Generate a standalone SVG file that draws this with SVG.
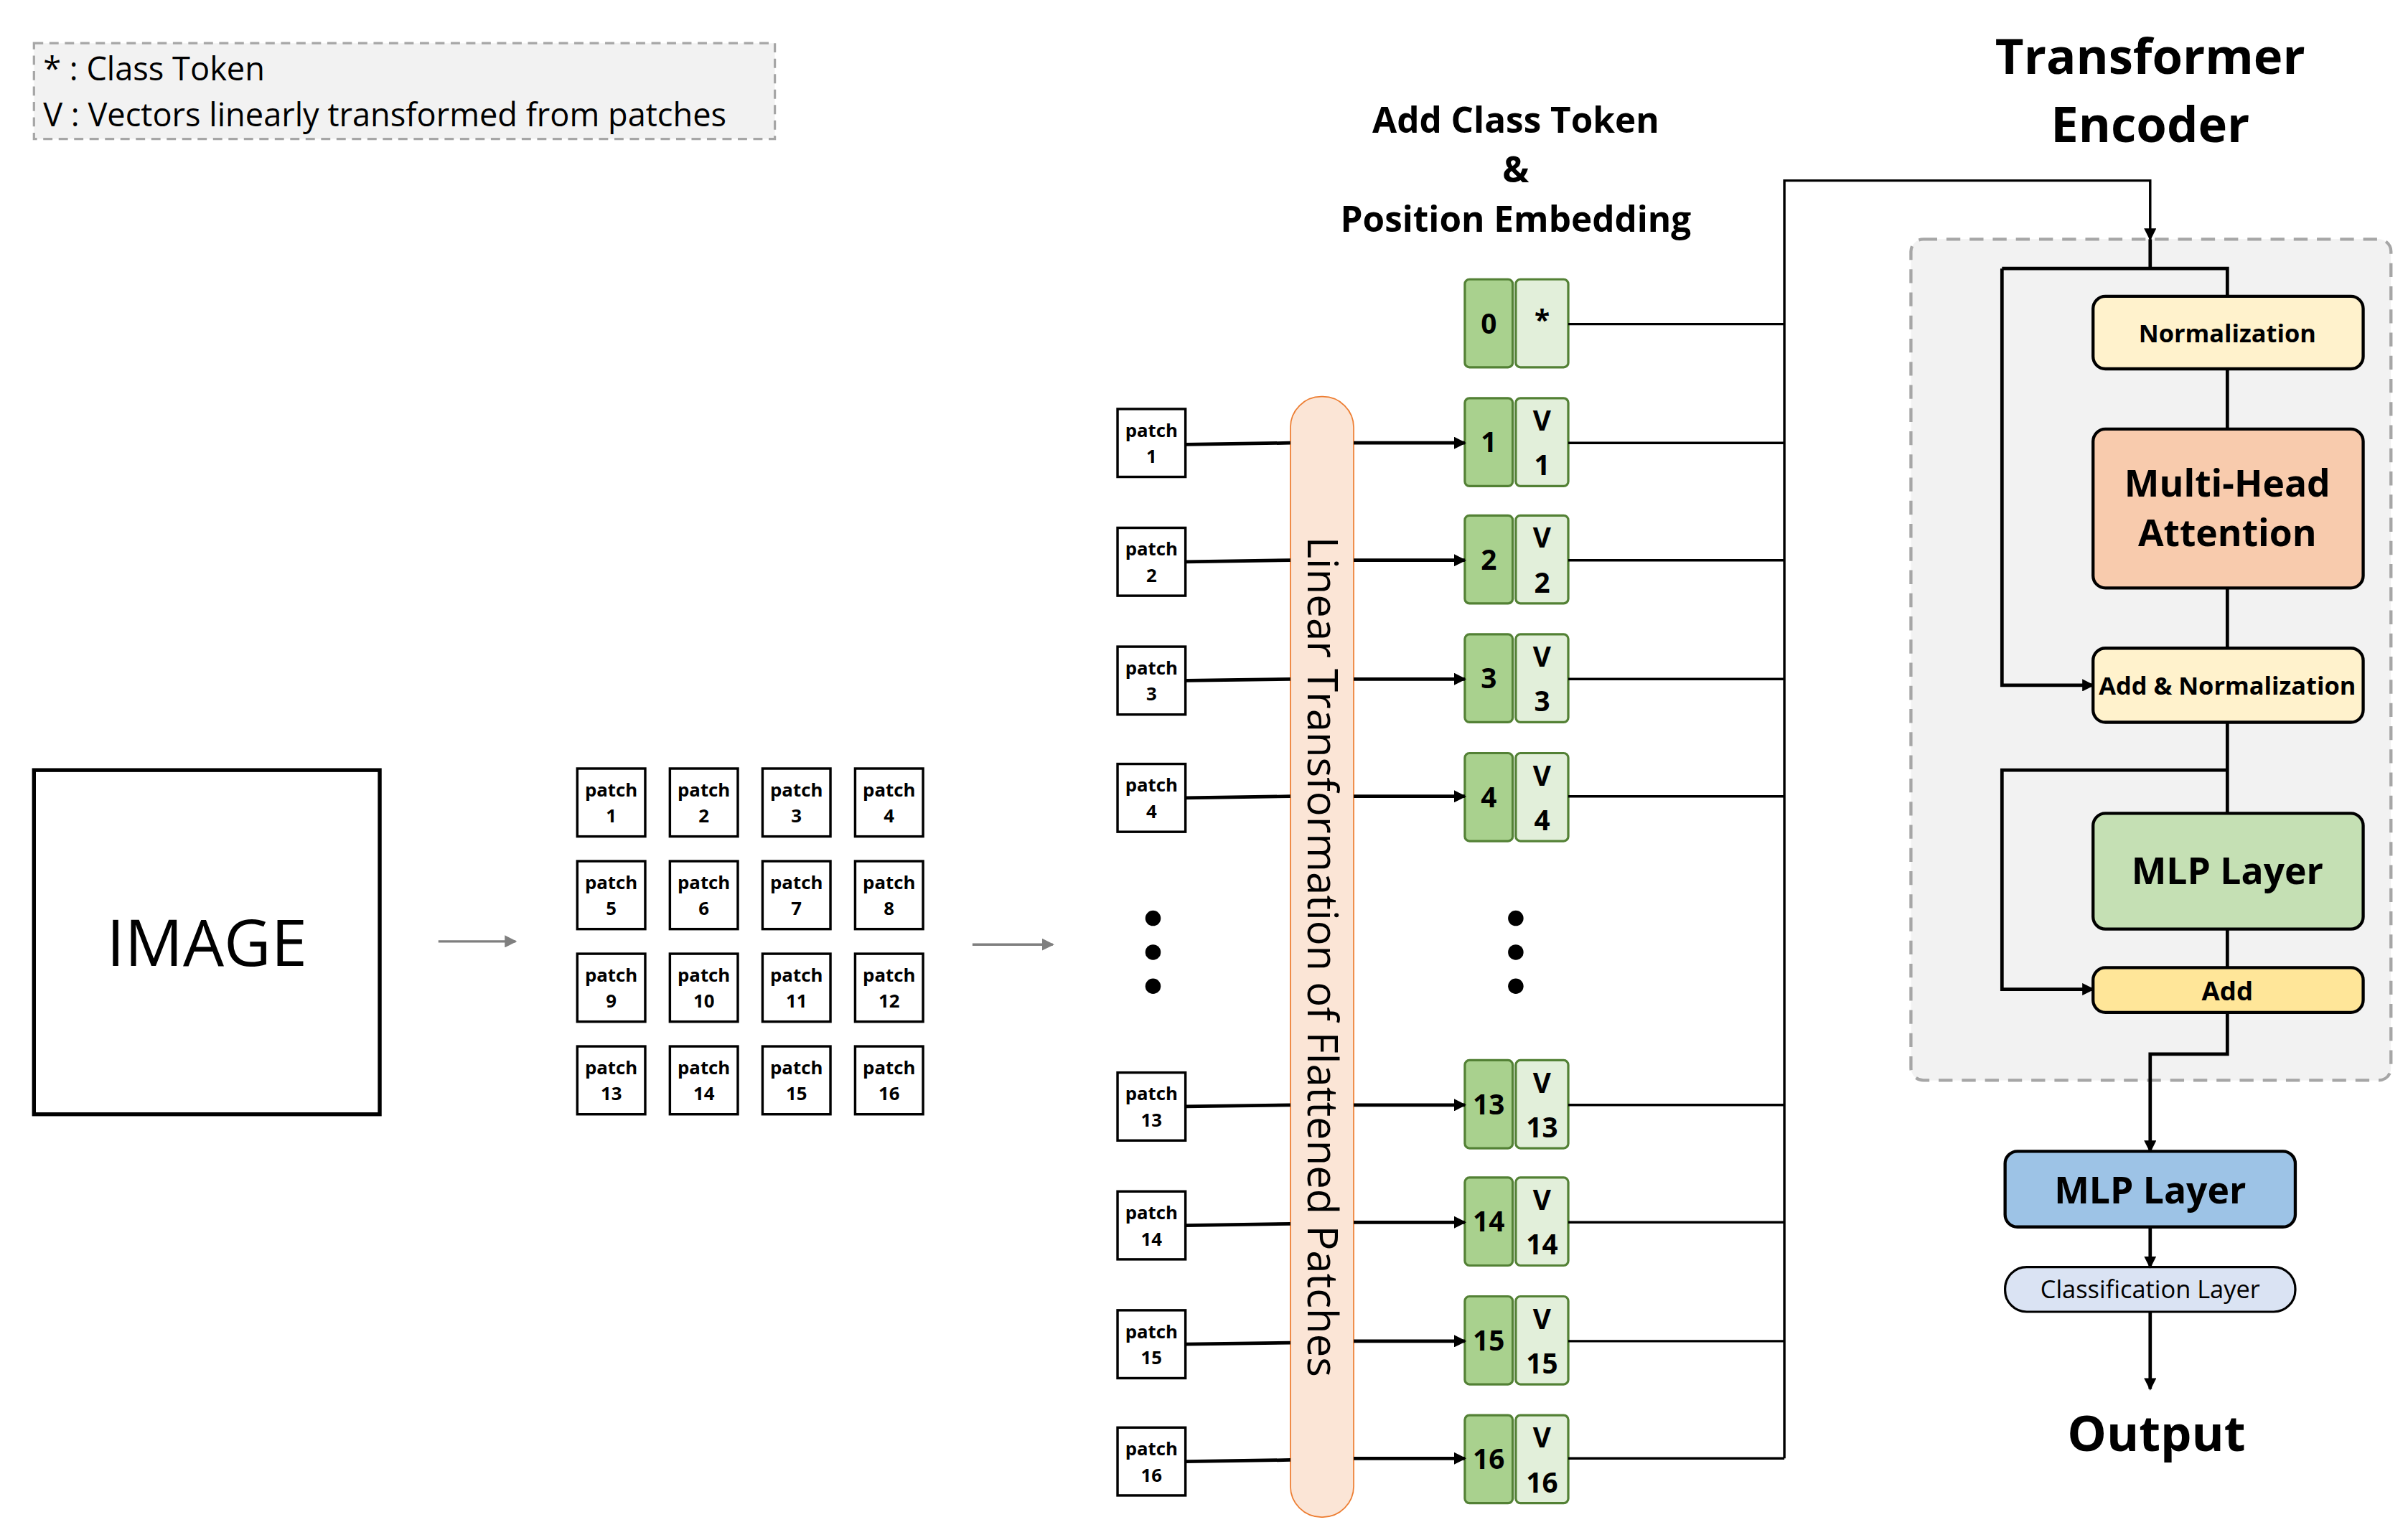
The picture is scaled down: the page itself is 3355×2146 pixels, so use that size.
<svg xmlns="http://www.w3.org/2000/svg" width="3355" height="2146" viewBox="0 0 3355 2146">
<defs>
<marker id="ah" markerWidth="8" markerHeight="8" refX="7" refY="4" orient="auto" markerUnits="userSpaceOnUse"><path d="M0,0 L8,4 L0,8 z" fill="#000"/></marker>
<marker id="ag" markerWidth="8" markerHeight="8" refX="7" refY="4" orient="auto" markerUnits="userSpaceOnUse"><path d="M0,0 L8,4 L0,8 z" fill="#7f7f7f"/></marker>
<style>
text{font-family:"Open Sans","Noto Sans",sans-serif;fill:#000}
.b{font-weight:bold}
.p{fill:#fff;stroke:#000;stroke-width:1.6}
.pt{font-size:12px;font-weight:bold;text-anchor:middle}
.dk{fill:#a9d18e;stroke:#538135;stroke-width:1.5}
.lt{fill:#e2efda;stroke:#538135;stroke-width:1.5}
.gt{font-size:18px;font-weight:bold;text-anchor:middle}
.ln{stroke:#000;stroke-width:1.6;fill:none}
.tk{stroke:#000;stroke-width:2.2;fill:none}
.bx{stroke:#000;stroke-width:2;rx:8}
.c{text-anchor:middle}
</style>
</defs>
<rect width="3355" height="2146" fill="#fff"/>
<g transform="scale(2.1506)">
<g id="legend">
<rect x="22" y="28" width="480" height="62" fill="#f2f2f2" stroke="#a6a6a6" stroke-width="1.5" stroke-dasharray="6,4"/>
<text x="28" y="52" font-size="21">* : Class Token</text>
<text x="28" y="82" font-size="21">V : Vectors linearly transformed from patches</text>
</g>
<g id="image">
<rect x="22" y="499" width="224" height="223" fill="#fff" stroke="#000" stroke-width="2.5"/>
<text x="134" y="626" font-size="42" class="c">IMAGE</text>
</g>
<g id="grid">
<rect class="p" x="374" y="498" width="44" height="44"/><text class="pt" x="396" y="516">patch</text><text class="pt" x="396" y="533">1</text>
<rect class="p" x="434" y="498" width="44" height="44"/><text class="pt" x="456" y="516">patch</text><text class="pt" x="456" y="533">2</text>
<rect class="p" x="494" y="498" width="44" height="44"/><text class="pt" x="516" y="516">patch</text><text class="pt" x="516" y="533">3</text>
<rect class="p" x="554" y="498" width="44" height="44"/><text class="pt" x="576" y="516">patch</text><text class="pt" x="576" y="533">4</text>
<rect class="p" x="374" y="558" width="44" height="44"/><text class="pt" x="396" y="576">patch</text><text class="pt" x="396" y="593">5</text>
<rect class="p" x="434" y="558" width="44" height="44"/><text class="pt" x="456" y="576">patch</text><text class="pt" x="456" y="593">6</text>
<rect class="p" x="494" y="558" width="44" height="44"/><text class="pt" x="516" y="576">patch</text><text class="pt" x="516" y="593">7</text>
<rect class="p" x="554" y="558" width="44" height="44"/><text class="pt" x="576" y="576">patch</text><text class="pt" x="576" y="593">8</text>
<rect class="p" x="374" y="618" width="44" height="44"/><text class="pt" x="396" y="636">patch</text><text class="pt" x="396" y="653">9</text>
<rect class="p" x="434" y="618" width="44" height="44"/><text class="pt" x="456" y="636">patch</text><text class="pt" x="456" y="653">10</text>
<rect class="p" x="494" y="618" width="44" height="44"/><text class="pt" x="516" y="636">patch</text><text class="pt" x="516" y="653">11</text>
<rect class="p" x="554" y="618" width="44" height="44"/><text class="pt" x="576" y="636">patch</text><text class="pt" x="576" y="653">12</text>
<rect class="p" x="374" y="678" width="44" height="44"/><text class="pt" x="396" y="696">patch</text><text class="pt" x="396" y="713">13</text>
<rect class="p" x="434" y="678" width="44" height="44"/><text class="pt" x="456" y="696">patch</text><text class="pt" x="456" y="713">14</text>
<rect class="p" x="494" y="678" width="44" height="44"/><text class="pt" x="516" y="696">patch</text><text class="pt" x="516" y="713">15</text>
<rect class="p" x="554" y="678" width="44" height="44"/><text class="pt" x="576" y="696">patch</text><text class="pt" x="576" y="713">16</text>
</g>
<g id="patchcol">
<rect class="p" x="724" y="265" width="44" height="44"/><text class="pt" x="746" y="283">patch</text><text class="pt" x="746" y="300">1</text>
<rect class="p" x="724" y="342" width="44" height="44"/><text class="pt" x="746" y="360">patch</text><text class="pt" x="746" y="377">2</text>
<rect class="p" x="724" y="419" width="44" height="44"/><text class="pt" x="746" y="437">patch</text><text class="pt" x="746" y="454">3</text>
<rect class="p" x="724" y="495" width="44" height="44"/><text class="pt" x="746" y="513">patch</text><text class="pt" x="746" y="530">4</text>
<rect class="p" x="724" y="695" width="44" height="44"/><text class="pt" x="746" y="713">patch</text><text class="pt" x="746" y="730">13</text>
<rect class="p" x="724" y="772" width="44" height="44"/><text class="pt" x="746" y="790">patch</text><text class="pt" x="746" y="807">14</text>
<rect class="p" x="724" y="849" width="44" height="44"/><text class="pt" x="746" y="867">patch</text><text class="pt" x="746" y="884">15</text>
<rect class="p" x="724" y="925" width="44" height="44"/><text class="pt" x="746" y="943">patch</text><text class="pt" x="746" y="960">16</text>
<circle cx="747" cy="595" r="5"/><circle cx="747" cy="617" r="5"/><circle cx="747" cy="639" r="5"/>
</g>
<g id="linear">
<rect x="836" y="257" width="41" height="726" rx="20" fill="#fbe5d6" stroke="#ed7d31" stroke-width="0.8"/>
<text transform="translate(847,620) rotate(90)" font-size="27" class="c">Linear Transformation of Flattened  Patches</text>
</g>
<g id="tokens">
<text x="982" y="86" font-size="23" class="b c">Add Class Token</text>
<text x="982" y="118" font-size="23" class="b c">&amp;</text>
<text x="982" y="150" font-size="23" class="b c">Position Embedding</text>
<rect class="dk" x="949" y="181" width="31" height="57" rx="3"/><rect class="lt" x="982" y="181" width="34" height="57" rx="3"/>
<text class="gt" x="964.5" y="216">0</text><text class="gt" x="999" y="214">*</text>
<rect class="dk" x="949" y="258" width="31" height="57" rx="3"/><rect class="lt" x="982" y="258" width="34" height="57" rx="3"/>
<text class="gt" x="964.5" y="293">1</text><text class="gt" x="999" y="279">V</text><text class="gt" x="999" y="308">1</text>
<rect class="dk" x="949" y="334" width="31" height="57" rx="3"/><rect class="lt" x="982" y="334" width="34" height="57" rx="3"/>
<text class="gt" x="964.5" y="369">2</text><text class="gt" x="999" y="355">V</text><text class="gt" x="999" y="384">2</text>
<rect class="dk" x="949" y="411" width="31" height="57" rx="3"/><rect class="lt" x="982" y="411" width="34" height="57" rx="3"/>
<text class="gt" x="964.5" y="446">3</text><text class="gt" x="999" y="432">V</text><text class="gt" x="999" y="461">3</text>
<rect class="dk" x="949" y="488" width="31" height="57" rx="3"/><rect class="lt" x="982" y="488" width="34" height="57" rx="3"/>
<text class="gt" x="964.5" y="523">4</text><text class="gt" x="999" y="509">V</text><text class="gt" x="999" y="538">4</text>
<rect class="dk" x="949" y="687" width="31" height="57" rx="3"/><rect class="lt" x="982" y="687" width="34" height="57" rx="3"/>
<text class="gt" x="964.5" y="722">13</text><text class="gt" x="999" y="708">V</text><text class="gt" x="999" y="737">13</text>
<rect class="dk" x="949" y="763" width="31" height="57" rx="3"/><rect class="lt" x="982" y="763" width="34" height="57" rx="3"/>
<text class="gt" x="964.5" y="798">14</text><text class="gt" x="999" y="784">V</text><text class="gt" x="999" y="813">14</text>
<rect class="dk" x="949" y="840" width="31" height="57" rx="3"/><rect class="lt" x="982" y="840" width="34" height="57" rx="3"/>
<text class="gt" x="964.5" y="875">15</text><text class="gt" x="999" y="861">V</text><text class="gt" x="999" y="890">15</text>
<rect class="dk" x="949" y="917" width="31" height="57" rx="3"/><rect class="lt" x="982" y="917" width="34" height="57" rx="3"/>
<text class="gt" x="964.5" y="952">16</text><text class="gt" x="999" y="938">V</text><text class="gt" x="999" y="967">16</text>
<circle cx="982" cy="595" r="5"/><circle cx="982" cy="617" r="5"/><circle cx="982" cy="639" r="5"/>
</g>
<g id="encoder">
<text x="1393" y="48" font-size="32" class="b c">Transformer</text>
<text x="1393" y="92" font-size="32" class="b c">Encoder</text>
<rect x="1238" y="155" width="311" height="545" rx="8" fill="#f2f2f2" stroke="#a6a6a6" stroke-width="2" stroke-dasharray="9,6"/>
<rect class="bx" x="1356" y="192" width="175" height="47" fill="#fff2cc"/><text x="1443" y="222" font-size="16" class="b c">Normalization</text>
<rect class="bx" x="1356" y="278" width="175" height="103" rx="14" fill="#f8cbad"/><text x="1443" y="322" font-size="24" class="b c">Multi-Head</text><text x="1443" y="354" font-size="24" class="b c">Attention</text>
<rect class="bx" x="1356" y="420" width="175" height="48" fill="#fff2cc"/><text x="1443" y="450" font-size="16" class="b c">Add &amp; Normalization</text>
<rect class="bx" x="1356" y="527" width="175" height="75" fill="#c5e0b4"/><text x="1443" y="573" font-size="24" class="b c">MLP Layer</text>
<rect class="bx" x="1356" y="627" width="175" height="29" fill="#ffe699"/><text x="1443" y="648" font-size="17" class="b c">Add</text>
</g>
<g id="head">
<rect class="bx" x="1299" y="746" width="188" height="49" rx="12" fill="#9dc3e6"/><text x="1393" y="780" font-size="24" class="b c">MLP Layer</text>
<rect x="1299" y="821" width="188" height="29" rx="14" fill="#dae3f3" stroke="#000" stroke-width="1.5"/><text x="1393" y="841" font-size="16" class="c">Classification Layer</text>
<text x="1397" y="940" font-size="32" class="b c">Output</text>
</g>
<g id="connectors">
<line x1="284" y1="610" x2="334" y2="610" stroke="#7f7f7f" stroke-width="1.6" marker-end="url(#ag)"/>
<line x1="630" y1="612" x2="682" y2="612" stroke="#7f7f7f" stroke-width="1.6" marker-end="url(#ag)"/>
<g class="tk">
<line x1="768" y1="288" x2="836" y2="287"/><line x1="877" y1="287" x2="949" y2="287" marker-end="url(#ah)"/>
<line x1="768" y1="364" x2="836" y2="363"/><line x1="877" y1="363" x2="949" y2="363" marker-end="url(#ah)"/>
<line x1="768" y1="441" x2="836" y2="440"/><line x1="877" y1="440" x2="949" y2="440" marker-end="url(#ah)"/>
<line x1="768" y1="517" x2="836" y2="516"/><line x1="877" y1="516" x2="949" y2="516" marker-end="url(#ah)"/>
<line x1="768" y1="717" x2="836" y2="716"/><line x1="877" y1="716" x2="949" y2="716" marker-end="url(#ah)"/>
<line x1="768" y1="794" x2="836" y2="793"/><line x1="877" y1="792" x2="949" y2="792" marker-end="url(#ah)"/>
<line x1="768" y1="871" x2="836" y2="870"/><line x1="877" y1="869" x2="949" y2="869" marker-end="url(#ah)"/>
<line x1="768" y1="947" x2="836" y2="946"/><line x1="877" y1="945" x2="949" y2="945" marker-end="url(#ah)"/>
</g>
<g class="ln">
<line x1="1016" y1="210" x2="1156" y2="210"/>
<line x1="1016" y1="287" x2="1156" y2="287"/>
<line x1="1016" y1="363" x2="1156" y2="363"/>
<line x1="1016" y1="440" x2="1156" y2="440"/>
<line x1="1016" y1="516" x2="1156" y2="516"/>
<line x1="1016" y1="716" x2="1156" y2="716"/>
<line x1="1016" y1="792" x2="1156" y2="792"/>
<line x1="1016" y1="869" x2="1156" y2="869"/>
<line x1="1016" y1="945" x2="1156" y2="945"/>
<polyline points="1156,945 1156,117 1393,117 1393,155" marker-end="url(#ah)"/>
</g>
<g class="tk">
<polyline points="1393,155 1393,174"/>
<polyline points="1297,174 1443,174 1443,192"/>
<polyline points="1297,174 1297,444 1356,444" marker-end="url(#ah)"/>
<line x1="1443" y1="239" x2="1443" y2="278"/>
<line x1="1443" y1="381" x2="1443" y2="420"/>
<line x1="1443" y1="468" x2="1443" y2="527"/>
<polyline points="1443,499 1297,499 1297,641 1356,641" marker-end="url(#ah)"/>
<line x1="1443" y1="602" x2="1443" y2="627"/>
<polyline points="1443,656 1443,683 1393,683 1393,746" marker-end="url(#ah)"/>
<line x1="1393" y1="795" x2="1393" y2="821" marker-end="url(#ah)"/>
<line x1="1393" y1="850" x2="1393" y2="900" marker-end="url(#ah)"/>
</g>
</g>
</g>
</svg>
